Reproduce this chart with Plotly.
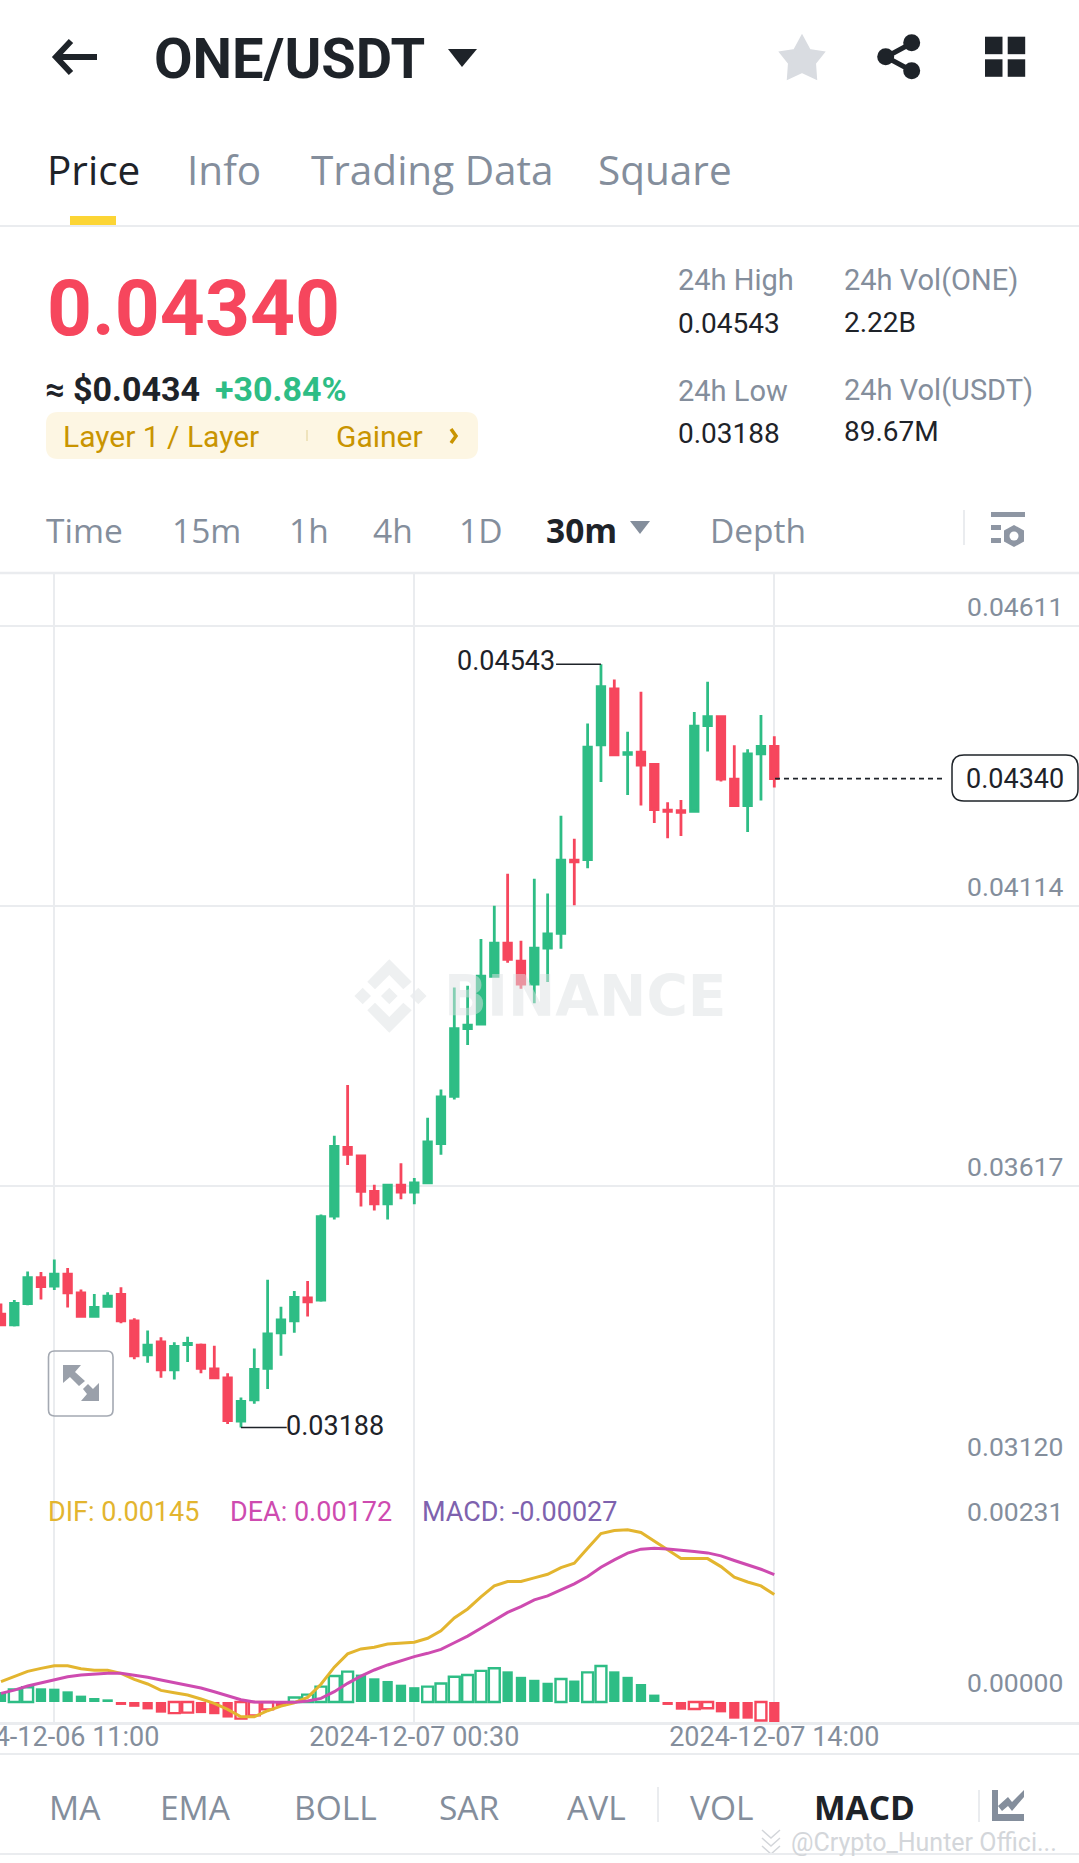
import pandas as pd
import plotly.graph_objects as go

W, H = 1079, 1863
GREEN, RED = "#2EBD85", "#F6465D"
GRAY, DARK, LINE = "#848E9C", "#1E2329", "#EAECEF"
SANS = "Roboto"
UI = "Open Sans"

# 30m candles, first one is 09:00
times = pd.date_range("2024-12-06 09:00", periods=59, freq="30min")
opens = [.03389, .03370, .03408, .03454, .03439, .03460, .03427, .03385, .03403, .03424, .03377, .03317,
         .03340, .03290, .03335, .03334, .03292, .03276, .03199, .03237, .03293, .03356, .03377, .03418,
         .03414, .03563, .03685, .03670, .03607, .03585, .03618, .03606, .03622, .03692, .03776, .03896,
         .03904, .03989, .04048, .04016, .03975, .04039, .04065, .04195, .04196, .04400, .04499, .04383,
         .04387, .04365, .04284, .04283, .04282, .04434, .04450, .04339, .04292, .04384, .04397]
highs = [.03408, .03414, .03465, .03464, .03486, .03471, .03433, .03425, .03428, .03437, .03382, .03360,
         .03348, .03339, .03349, .03337, .03333, .03284, .03241, .03328, .03450, .03402, .03430, .03448,
         .03566, .03706, .03796, .03670, .03619, .03618, .03657, .03631, .03738, .03788, .03969, .03972,
         .04055, .04114, .04171, .04052, .04162, .04136, .04274, .04233, .04438, .04543, .04516, .04423,
         .04494, .04367, .04298, .04302, .04458, .04512, .04450, .04399, .04392, .04453, .04415]
lows = [.03370, .03367, .03405, .03415, .03432, .03401, .03383, .03383, .03403, .03373, .03309, .03303,
        .03276, .03273, .03304, .03284, .03276, .03194, .03188, .03230, .03256, .03315, .03356, .03385,
        .03411, .03557, .03654, .03580, .03573, .03557, .03593, .03584, .03622, .03672, .03770, .03867,
        .03904, .03987, .04013, .03967, .03941, .03979, .04038, .04115, .04181, .04334, .04381, .04311,
        .04292, .04261, .04234, .04238, .04281, .04388, .04335, .04290, .04245, .04301, .04324]
closes = [.03370, .03408, .03454, .03438, .03460, .03427, .03385, .03401, .03421, .03377, .03315, .03334,
          .03290, .03332, .03337, .03293, .03276, .03200, .03234, .03291, .03354, .03379, .03419, .03411,
          .03562, .03687, .03673, .03607, .03585, .03618, .03606, .03622, .03695, .03775, .03896, .03902,
          .03989, .04048, .04019, .03975, .04039, .04064, .04195, .04192, .04396, .04503, .04382, .04386,
          .04364, .04285, .04282, .04280, .04433, .04450, .04339, .04292, .04384, .04397, .04340]

dif = [.000274, .00034, .000414, .000454, .00049, .00049, .00045, .00043, .000427, .000387, .000306, .000243,
       .000157, .000125, .000094, .00004, -.000019, -.0001, -.0002, -.0002, -.000118, -.000055, -.00001, .000062,
       .00024, .00047, .00065, .000716, .00074, .000783, .000797, .000806, .00086, .00096, .001135, .001256,
       .00142, .001567, .001626, .001626, .001675, .001725, .001815, .001873, .002076, .002274, .002315, .002324,
       .002288, .002166, .002054, .001936, .00194, .001936, .001828, .001684, .00162, .001567, .00145]
dea = [.000116, .00016, .000216, .00026, .000306, .000342, .000364, .000378, .000387, .000387, .000364, .000333,
       .000297, .00026, .000225, .000189, .000139, .00008, .000031, 0, -.000005, -.000005, -.000005, .000013,
       .000049, .000139, .000252, .00035, .000432, .0005, .000558, .000612, .000657, .00071, .0008, .00089,
       .000995, .001099, .00121, .001288, .001378, .001432, .001513, .001594, .001693, .00182, .001919, .002009,
       .002063, .002076, .002067, .002045, .002031, .002013, .001973, .00191, .00185, .001792, .00172]
macd = [.000135, .00017, .0002, .000185, .00018, .000144, .000086, .000054, .000036, -.00004, -.000065, -.0001,
        -.000144, -.00015, -.000144, -.00015, -.000165, -.00021, -.000225, -.00018, -.0001, -.000055, .00006, .0001,
        .000207, .00035, .00041, .00037, .00032, .000284, .000234, .0002, .000207, .00025, .00034, .000365,
        .00042, .000455, .000414, .00034, .0003, .00026, .00031, .00029, .0004, .000486, .000414, .00034,
        .000243, .0001, -.00004, -.000104, -.000095, -.000085, -.00014, -.000225, -.000225, -.00025, -.00027]
hollow = [0, 1, 1, 0, 0, 0, 0, 0, 0, 0, 0, 0,
          0, 1, 1, 0, 0, 0, 1, 1, 1, 0, 1, 1,
          1, 1, 1, 0, 0, 0, 0, 0, 1, 1, 1, 1,
          1, 1, 0, 0, 0, 0, 1, 0, 1, 1, 0, 0,
          0, 0, 0, 0, 1, 1, 0, 0, 0, 1, 0]

price_ticks = [.04611, .04114, .03617, .03120]
macd_ticks = [.00231, .00000]
date_ticks = ["2024-12-06 11:00", "2024-12-07 00:30", "2024-12-07 14:00"]


def px(x):
    return x / W


def py(y):
    return 1 - y / H


def path(pts, close=True):
    s = "M" + " L".join(f"{px(x):.5f} {py(y):.5f}" for x, y in pts)
    return s + (" Z" if close else "")


def round_rect(x0, y0, x1, y1, r):
    return (f"M{px(x0 + r):.5f} {py(y0):.5f} L{px(x1 - r):.5f} {py(y0):.5f} Q{px(x1):.5f} {py(y0):.5f} {px(x1):.5f} {py(y0 + r):.5f} "
            f"L{px(x1):.5f} {py(y1 - r):.5f} Q{px(x1):.5f} {py(y1):.5f} {px(x1 - r):.5f} {py(y1):.5f} "
            f"L{px(x0 + r):.5f} {py(y1):.5f} Q{px(x0):.5f} {py(y1):.5f} {px(x0):.5f} {py(y1 - r):.5f} "
            f"L{px(x0):.5f} {py(y0 + r):.5f} Q{px(x0):.5f} {py(y0):.5f} {px(x0 + r):.5f} {py(y0):.5f} Z")


fig = go.Figure()
fig.add_trace(go.Candlestick(
    x=times, open=opens, high=highs, low=lows, close=closes, whiskerwidth=0,
    increasing=dict(line=dict(color=GREEN, width=2.8), fillcolor=GREEN),
    decreasing=dict(line=dict(color=RED, width=2.8), fillcolor=RED),
    hoverinfo="skip", yaxis="y",
))
bar_cols = [GREEN if v >= 0 else RED for v in macd]
fig.add_trace(go.Bar(
    x=times, y=macd, yaxis="y2", hoverinfo="skip",
    width=[1470000 if h else 1390000 for h in hollow],
    marker=dict(color=["rgba(0,0,0,0)" if h else c for h, c in zip(hollow, bar_cols)],
                line=dict(color=bar_cols, width=[2.4 if h else 0 for h in hollow])),
))
fig.add_trace(go.Scatter(x=times, y=dif, mode="lines", yaxis="y2", hoverinfo="skip",
                         line=dict(color="#E3B52F", width=3)))
fig.add_trace(go.Scatter(x=times, y=dea, mode="lines", yaxis="y2", hoverinfo="skip",
                         line=dict(color="#CE4BB0", width=3)))

notes, shapes = [], []


def label(x, y, text, size=30, color=GRAY, anchor="left", font=SANS, weight=None):
    # left anchored text comes out a little to the right of x
    x0 = x - 1.5 if anchor == "left" else x
    f = dict(family=font, size=size, color=color)
    if weight:
        f["weight"] = weight
    notes.append(dict(xref="paper", yref="paper", x=px(x0), y=py(y), text=text, showarrow=False,
                      xanchor=anchor, yanchor="middle", borderpad=0, font=f))


def hline(y, color=LINE, width=2, x0=0, x1=W):
    shapes.append(dict(type="line", xref="paper", yref="paper", x0=px(x0), x1=px(x1), y0=py(y), y1=py(y),
                       line=dict(color=color, width=width)))


def vline(x, y0, y1, color=LINE, width=2):
    shapes.append(dict(type="line", xref="paper", yref="paper", x0=px(x), x1=px(x), y0=py(y0), y1=py(y1),
                       line=dict(color=color, width=width)))


def poly(pts, color=DARK, layer="above", stroke=0):
    shapes.append(dict(type="path", xref="paper", yref="paper", path=path(pts), fillcolor=color,
                       line=dict(width=stroke, color=color), layer=layer))


def dot(cx, cy, r, color=DARK):
    shapes.append(dict(type="circle", xref="paper", yref="paper", x0=px(cx - r), x1=px(cx + r), y0=py(cy - r), y1=py(cy + r),
                       fillcolor=color, line=dict(width=0)))


def diamond(cx, cy, r, color):
    poly([(cx, cy - r), (cx + r, cy), (cx, cy + r), (cx - r, cy)], color, "below")


# header
shapes.append(dict(type="path", xref="paper", yref="paper", path=path([(71, 41), (56, 57), (71, 73)], close=False),
                   line=dict(color=DARK, width=6)))
hline(57, DARK, 6, 56, 97)
label(154, 59, "<b>ONE/USDT</b>", 56, DARK)
poly([(448, 49), (477, 49), (462, 67)])
poly([(802, 38), (809, 51), (822, 53), (814, 63), (815, 77), (802, 71), (789, 77), (790, 63), (782, 53), (795, 51)], "#D9DCE1", stroke=4)
shapes.append(dict(type="path", xref="paper", yref="paper", path=path([(912, 43), (886, 57), (912, 71)], close=False),
                   line=dict(color=DARK, width=5)))
for cx, cy in [(911.7, 42.7), (885.7, 56.7), (911.7, 70.7)]:
    dot(cx, cy, 8.5)
for x0, y0 in [(985, 36.7), (1007.7, 36.7), (985, 59.3), (1007.7, 59.3)]:
    poly([(x0, y0), (x0 + 17.5, y0), (x0 + 17.5, y0 + 17.5), (x0, y0 + 17.5)])

# tabs
label(47, 170, "Price", 40.5, DARK, font=UI, weight=500)
label(187, 170, "Info", 40.5, font=UI, weight=500)
label(311, 170, "Trading Data", 40.5, font=UI, weight=500)
label(598, 170, "Square", 40.5, font=UI, weight=500)
poly([(70, 216), (116, 216), (116, 225), (70, 225)], "#FCD535")
hline(226)

# price block
label(47, 308, "<b>0.04340</b>", 78.5, RED)
label(45, 389, "<b>≈ $0.0434</b>", 34, DARK)
label(215, 389, "<b>+30.84%</b>", 34, GREEN)
shapes.append(dict(type="path", xref="paper", yref="paper", path=round_rect(46, 412, 478, 459, 12),
                   fillcolor="#FDF6E3", line=dict(width=0), layer="below"))
label(63, 436, "Layer 1 / Layer", 30, "#C99400")
vline(307, 430, 441, "#EFE3BC")
label(336, 436, "Gainer", 30, "#C99400")
shapes.append(dict(type="path", xref="paper", yref="paper", path=path([(451, 429), (456, 436), (451, 443)], close=False),
                   line=dict(color="#C99400", width=3.5)))
for x, y, text, size, color in [
    (678, 280, "24h High", 29, GRAY), (678, 323, "0.04543", 28, DARK),
    (678, 391, "24h Low", 29, GRAY), (678, 433, "0.03188", 28, DARK),
    (844, 280, "24h Vol(ONE)", 29, GRAY), (844, 322, "2.22B", 28, DARK),
    (844, 390, "24h Vol(USDT)", 29, GRAY), (844, 431, "89.67M", 28, DARK),
]:
    label(x, y, text, size, color)

# interval row
for x, text in [(46, "Time"), (172, "15m"), (289, "1h"), (373, "4h"), (459, "1D"), (710, "Depth")]:
    label(x, 530, text, 33.5, font=UI)
label(546, 530, "<b>30m</b>", 33.5, DARK, font=UI)
poly([(630, 521), (650, 521), (640, 534)], GRAY)
vline(964, 510, 545)
poly([(991, 512), (1025, 512), (1025, 517), (991, 517)], "#8E96A3")
poly([(991, 525), (1001, 525), (1001, 530), (991, 530)], "#8E96A3")
poly([(991, 538), (1001, 538), (1001, 543), (991, 543)], "#8E96A3")
poly([(1014, 525), (1024, 530.5), (1024, 541.5), (1014, 547), (1004, 541.5), (1004, 530.5)], "#8E96A3")
dot(1014, 536, 4.5, "white")
hline(573, LINE, 2.5)

# watermark
WM = "#EEF0F1"
poly([(389.3, 959.3), (411.7, 981.7), (403.3, 989.3), (389.3, 975), (375, 989.3), (367.3, 981.7)], WM, "below")
poly([(389.3, 1032.7), (411.7, 1010.3), (403.3, 1002.7), (389.3, 1017), (375, 1002.7), (367.3, 1010.3)], WM, "below")
for cx in [362.7, 389.3, 418.3]:
    diamond(cx, 996, 8.3, WM)
label(444, 996, "<b>BINANCE</b>", 56.5, "rgba(222,225,228,0.5)", font="DejaVu Sans")

# expand button
shapes.append(dict(type="path", xref="paper", yref="paper", path=round_rect(48.5, 1351, 113, 1416, 6),
                   line=dict(color="#A4A9B2", width=1.6)))
poly([(63, 1365), (81, 1365), (75, 1372), (85, 1381), (79, 1386), (70, 1377), (63, 1383)], "#9AA0AA")
poly([(99, 1401), (81, 1401), (87, 1394), (83, 1389), (88, 1384), (93, 1389), (99, 1383)], "#9AA0AA")

# axis labels
for v in price_ticks:
    notes.append(dict(xref="paper", yref="y", x=px(1065), y=v, text=f"{v:.5f}", showarrow=False, xanchor="right",
                      yanchor="bottom", yshift=2, font=dict(family=SANS, size=26.5, color=GRAY)))
for v in macd_ticks:
    notes.append(dict(xref="paper", yref="y2", x=px(1065), y=v, text=f"{v:.5f}", showarrow=False, xanchor="right",
                      yanchor="bottom", yshift=2, font=dict(family=SANS, size=26.5, color=GRAY)))

# last price tag, extremes
shapes.append(dict(type="line", xref="paper", yref="y", x0=px(775), x1=px(942), y0=closes[-1], y1=closes[-1],
                   line=dict(color=DARK, width=1.7, dash="5px,4px")))
shapes.append(dict(type="path", xref="paper", yref="paper", path=round_rect(952, 755, 1078, 801, 12),
                   fillcolor="white", line=dict(color=DARK, width=1.5)))
label(1015, 779, f"{closes[-1]:.5f}", 27, DARK, "center")
i_high, i_low = highs.index(max(highs)), lows.index(min(lows))
shapes.append(dict(type="line", xref="x", yref="y", x0=times[i_high] - pd.Timedelta(minutes=101), x1=times[i_high],
                   y0=highs[i_high], y1=highs[i_high], line=dict(color=DARK, width=1.5)))
shapes.append(dict(type="line", xref="x", yref="y", x0=times[i_low], x1=times[i_low] + pd.Timedelta(minutes=103),
                   y0=lows[i_low], y1=lows[i_low], line=dict(color=DARK, width=1.5)))
label(556, 661, f"{highs[i_high]:.5f}", 27, DARK, "right")
label(286, 1426, f"{lows[i_low]:.5f}", 27, DARK)

# macd legend
label(48, 1512, "DIF: 0.00145", 27, "#E3B52F")
label(230, 1512, "DEA: 0.00172", 27, "#CE4BB0")
label(422, 1512, "MACD: -0.00027", 27, "#7E62AE")
hline(1754)

# indicator bar
for x, text in [(49, "MA"), (160, "EMA"), (294, "BOLL"), (439, "SAR"), (567, "AVL"), (690, "VOL")]:
    label(x, 1807, text, 33.5, font=UI)
label(814, 1807, "<b>MACD</b>", 33.5, DARK, font=UI)
vline(658, 1787, 1822)
vline(979, 1790, 1822)
poly([(992, 1790), (998, 1790), (998, 1814), (1024, 1814), (1024, 1821), (992, 1821)], GRAY)
poly([(998, 1806), (1008, 1797), (1012, 1802), (1024, 1790), (1024, 1797), (1012, 1811), (1008, 1806), (1002, 1811)], GRAY)
label(791, 1842, "@Crypto_Hunter Offici...", 25, "#D3D6DA")
for cy in [1835, 1843, 1851]:
    shapes.append(dict(type="path", xref="paper", yref="paper",
                       path=path([(762, cy - 5), (771, cy + 3), (780, cy - 5)], close=False),
                       line=dict(color="#D3D6DA", width=1.5)))
hline(1854)

fig.update_layout(
    width=W, height=H, margin=dict(l=0, r=0, t=0, b=0, autoexpand=False), showlegend=False, hovermode=False,
    paper_bgcolor="white", plot_bgcolor="rgba(0,0,0,0)", barmode="overlay", boxgap=0.25, boxgroupgap=0.25,
    font=dict(family=SANS),
    xaxis=dict(type="date", range=["2024-12-06 08:57:49", "2024-12-08 01:25:36"], anchor="y2", domain=[0, 1],
               rangeslider=dict(visible=False), tickvals=date_ticks, ticktext=date_ticks, ticklabeloverflow="allow",
               ticklabelstandoff=-11, showgrid=True, gridcolor=LINE, gridwidth=1.5, showline=True, linecolor=LINE,
               linewidth=2.5, ticks="", tickfont=dict(family=SANS, size=27, color=GRAY), zeroline=False),
    yaxis=dict(domain=[py(1465.7), py(573)], range=[.03120, .04705], tickvals=price_ticks, showticklabels=False,
               showgrid=True, gridcolor=LINE, gridwidth=1.5, zeroline=False, ticks=""),
    yaxis2=dict(domain=[py(1722), py(1465.7)], range=[-.00027, .00319], tickvals=macd_ticks, showticklabels=False,
                showgrid=False, zeroline=False, ticks=""),
    annotations=notes, shapes=shapes,
)

# the page template keeps the browser's default body margin
fig.write_html("out.html", config={"displayModeBar": False}, post_script="document.body.style.margin='0';")
